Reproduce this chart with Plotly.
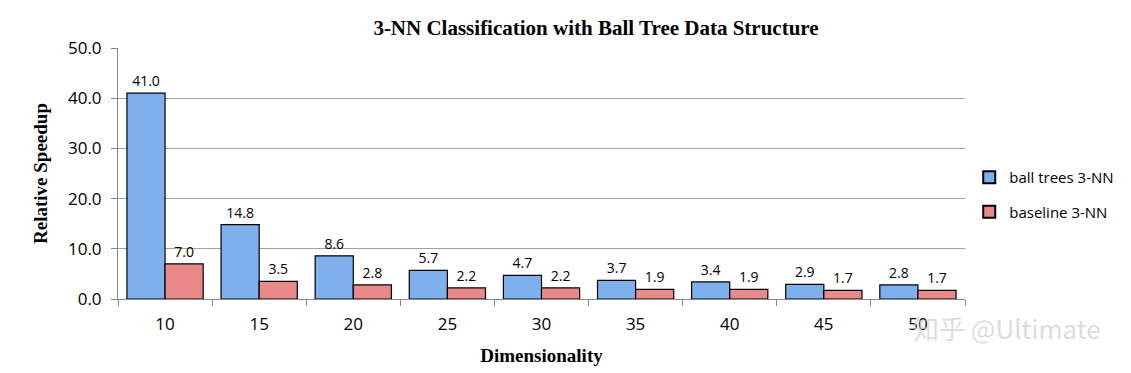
import plotly.graph_objects as go

dims = ["10", "15", "20", "25", "30", "35", "40", "45", "50"]
ball_trees = [41.0, 14.8, 8.6, 5.7, 4.7, 3.7, 3.4, 2.9, 2.8]
baseline = [7.0, 3.5, 2.8, 2.2, 2.2, 1.9, 1.9, 1.7, 1.7]
y_ticks = [0, 10, 20, 30, 40, 50]

sans = "Open Sans, Liberation Sans, sans-serif"
serif = "Liberation Serif, Times New Roman, serif"
label_font = dict(family=sans, size=14, color="black")

fig = go.Figure()
fig.add_trace(go.Bar(
    x=dims, y=ball_trees, name="ball trees 3-NN", legendgroup="a",
    marker=dict(color="#7fb0ee", line=dict(color="black", width=1.2)),
    text=[f"{v:.1f}" for v in ball_trees], textposition="outside",
    textfont=label_font, cliponaxis=False,
))
fig.add_trace(go.Bar(
    x=dims, y=baseline, name="baseline 3-NN", legendgroup="b",
    marker=dict(color="#e98a88", line=dict(color="black", width=1.2)),
    text=[f"{v:.1f}" for v in baseline], textposition="outside",
    textfont=label_font, cliponaxis=False,
))

fig.update_layout(
    width=1123, height=365,
    margin=dict(l=110, r=166, t=40, b=74, autoexpand=False),
    paper_bgcolor="white", plot_bgcolor="white",
    barmode="group", bargap=0.19, bargroupgap=0,
    title=dict(text="<b>3-NN Classification with Ball Tree Data Structure</b>",
               font=dict(family=serif, size=21, color="black"),
               x=0.5236, xanchor="center", y=0.945, yanchor="middle"),
    legend=dict(x=1.005, xanchor="left", y=0.416, yanchor="middle",
                font=dict(family=sans, size=15, color="black"),
                tracegroupgap=12, itemsizing="constant"),
    showlegend=True,
    font=dict(family=sans, size=15, color="black"),
)
fig.update_xaxes(
    title=dict(text="<b>Dimensionality</b>", font=dict(family=serif, size=19, color="black"), standoff=14),
    showline=True, linecolor="#888888", linewidth=1, automargin=False,
    ticks="outside", tickson="boundaries", ticklen=6, tickcolor="#888888",
    ticklabelstandoff=10,
    tickfont=dict(size=17), showgrid=False,
)
fig.update_yaxes(
    title=dict(text="<b>Relative Speedup</b>", font=dict(family=serif, size=19, color="black"), standoff=15),
    range=[0, 50], tickvals=y_ticks, ticktext=[f"{v:.1f}" for v in y_ticks],
    showline=True, linecolor="#888888", linewidth=1, automargin=False,
    ticks="outside", ticklen=6, tickcolor="#888888",
    ticklabelstandoff=6,
    showgrid=True, gridcolor="#a0a0a0", gridwidth=1,
    tickfont=dict(size=17), zeroline=False,
)
fig.add_annotation(text="知乎 @Ultimate", xref="paper", yref="paper", x=1.163, y=-0.1155,
                   xanchor="right", yanchor="middle", showarrow=False,
                   font=dict(family="Noto Sans CJK SC, sans-serif", size=26, color="rgba(205,205,205,0.7)"))

fig.write_html("out.html")
